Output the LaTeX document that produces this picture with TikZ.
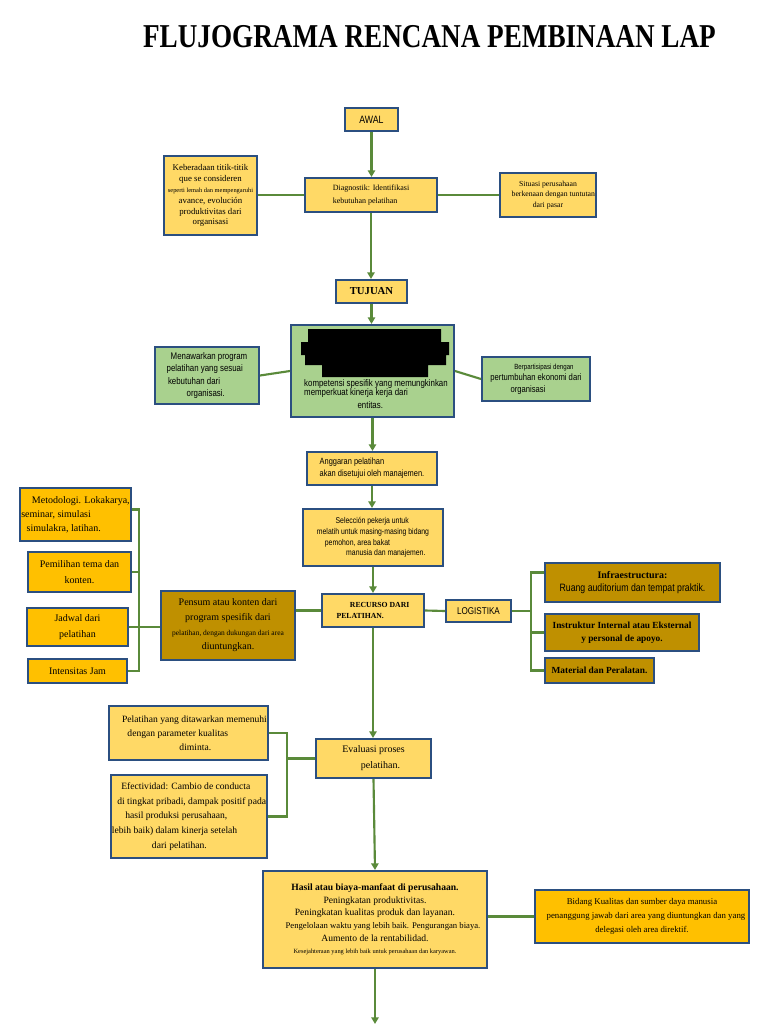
\documentclass[tikz,border=0pt]{standalone}
\usepackage{fontspec}
\setmainfont{Liberation Serif}
\newfontfamily\nsans[FakeStretch=0.82]{Liberation Sans}
\usetikzlibrary{arrows.meta,calc}
\definecolor{bcol}{HTML}{2B4F80}
\definecolor{lyel}{HTML}{FFD966}
\definecolor{gold}{HTML}{FFC000}
\definecolor{dgold}{HTML}{BF9000}
\definecolor{gfill}{HTML}{A9D18E}
\definecolor{lcol}{HTML}{5A8A3A}
\newcommand\myfs[2]{\fontsize{#1}{#2}\selectfont}
\begin{document}
\begin{tikzpicture}[x=0.75pt,y=-0.75pt,
  box/.style={draw=bcol,line width=1.5pt,inner sep=1pt,align=center},
  ly/.style={box,fill=lyel},
  gd/.style={box,fill=gold},
  dg/.style={box,fill=dgold},
  gr/.style={box,fill=gfill},
  conn/.style={draw=lcol,line width=1.6pt},
  arr/.style={conn,-{Triangle[width=5.5pt,length=5pt]},shorten >=0pt}]
\useasboundingbox (0,0) rectangle (768,1024);
\fill[white] (0,0) rectangle (768,1024);
% title
\node[font=\bfseries\myfs{25}{28},inner sep=0pt] (title) at (429.5,37) {\scalebox{0.815}[1]{FLUJOGRAMA RENCANA PEMBINAAN LAP}};
% top section
\node[ly,minimum width=39.75pt,minimum height=17.25pt,font=\nsans\myfs{8}{9}] (awal) at (371.5,119.5) {AWAL};
\node[ly,minimum width=99pt,minimum height=25.5pt,font=\myfs{6}{9.5},align=left] (diag) at (371,195) {Diagnostik: Identifikasi\\kebutuhan pelatihan};
\node[ly,minimum width=69.75pt,minimum height=59.25pt,font=\myfs{6.6}{8.2}] (keber) at (210.5,195.5) {Keberadaan titik-titik\\que se consideren\\{\myfs{4.8}{8.2}seperti lemah dan mempengaruhi}\\avance, evolución\\produktivitas dari\\organisasi};
\node[ly,minimum width=72pt,minimum height=33pt,font=\myfs{5.8}{8}] (situ) at (548,195) {Situasi perusahaan\\\hspace*{8pt}berkenaan dengan tuntutan\\dari pasar};
\node[ly,minimum width=53.25pt,minimum height=17.25pt,font=\bfseries\myfs{8}{9}] (tujuan) at (371.5,291.5) {TUJUAN};
% green row
\node[gr,minimum width=122.25pt,minimum height=69pt] (cgreen) at (372.5,371) {};
\fill[black] (308,329) -- (441,329) -- (441,342) -- (449,342) -- (449,355) -- (446,355) -- (446,365) -- (428,365) -- (428,377) -- (322,377) -- (322,365) -- (305,365) -- (305,355) -- (301,355) -- (301,342) -- (308,342) -- cycle;
\node[font=\nsans\myfs{7.2}{6.8},align=left,inner sep=0pt] (cgtext) at (376,394) {kompetensi spesifik yang memungkinkan\\memperkuat kinerja kerja dari\\[3.5pt]\hspace*{40pt}entitas.};
\node[gr,minimum width=78pt,minimum height=42.75pt,font=\nsans\myfs{7.2}{9.2},align=left] (lgreen) at (207,375.5) {\hspace*{3pt}Menawarkan program\\pelatihan yang sesuai\\\hspace*{1pt}kebutuhan dari\\\hspace*{15pt}organisasi.};
\node[gr,minimum width=81pt,minimum height=33pt,font=\nsans\myfs{7}{8.5}] (rgreen) at (536,379) {\hspace*{12pt}{\myfs{5.6}{8}Berpartisipasi dengan}\\pertumbuhan ekonomi dari\\\hspace*{-12pt}organisasi};
% middle column
\node[ly,minimum width=97.5pt,minimum height=24.75pt,font=\nsans\myfs{6.8}{9},align=left] (angg) at (372,468.5) {Anggaran pelatihan\\akan disetujui oleh manajemen.};
\node[ly,minimum width=105pt,minimum height=42.75pt,font=\nsans\myfs{6.3}{8},align=left] (selec) at (373,537.5) {\hspace*{14pt}Selección pekerja untuk\\melatih untuk masing-masing bidang\\\hspace*{6pt}pemohon, area bakat\\\hspace*{22pt}manusia dan manajemen.};
\node[ly,minimum width=76.5pt,minimum height=24.75pt,font=\bfseries\myfs{5.8}{8.5},align=left] (recur) at (373,610.5) {\hspace*{10pt}RECURSO DARI\\PELATIHAN.};
\node[dg,minimum width=100.5pt,minimum height=51.75pt,font=\myfs{7.5}{11}] (pensum) at (228,625.5) {Pensum atau konten dari\\program spesifik dari\\{\myfs{5.6}{11}pelatihan, dengan dukungan dari area}\\diuntungkan.};
\node[ly,minimum width=48.75pt,minimum height=16.5pt,font=\nsans\myfs{7.4}{9}] (logis) at (478.5,611) {LOGISTIKA};
% right column
\node[dg,minimum width=131.25pt,minimum height=29.25pt,font=\myfs{7.5}{9.5}] (infra) at (632.5,582.5) {\textbf{Infraestructura:}\\{\nsans\myfs{8}{9.5}Ruang auditorium dan tempat praktik.}};
\node[dg,minimum width=115.5pt,minimum height=27.75pt,font=\bfseries\myfs{7}{9.5}] (instr) at (622,632.5) {Instruktur Internal atau Eksternal\\y personal de apoyo.};
\node[dg,minimum width=81.75pt,minimum height=18.75pt,font=\bfseries\myfs{7}{9}] (mater) at (599.5,670.5) {Material dan Peralatan.};
% left column
\node[gd,minimum width=83.25pt,minimum height=39.75pt,font=\myfs{7.5}{10.5},align=left] (metod) at (75.5,514.5) {\hspace*{8pt}Metodologi. Lokakarya,\\seminar, simulasi\\\hspace*{4pt}simulakra, latihan.};
\node[gd,minimum width=77.25pt,minimum height=30pt,font=\myfs{7.5}{12}] (pemil) at (79.5,572) {Pemilihan tema dan\\konten.};
\node[gd,minimum width=75.75pt,minimum height=28.5pt,font=\myfs{7.5}{12}] (jadwal) at (77.5,627) {Jadwal dari\\pelatihan};
\node[gd,minimum width=74.25pt,minimum height=18pt,font=\myfs{7.5}{9}] (inten) at (77.5,671) {Intensitas Jam};
% evaluation
\node[ly,minimum width=86.25pt,minimum height=29.25pt,font=\myfs{7.5}{12},align=left] (evalu) at (373.5,758.5) {Evaluasi proses\\\hspace*{14pt}pelatihan.};
\node[ly,minimum width=117.75pt,minimum height=40.5pt,font=\myfs{7.2}{10.5},align=left] (pelat) at (188.5,733) {\hspace*{9pt}Pelatihan yang ditawarkan memenuhi\\\hspace*{13pt}dengan parameter kualitas\\\hspace*{52pt}diminta.};
\node[ly,minimum width=117pt,minimum height=62.25pt,font=\myfs{7.2}{11},align=left] (efect) at (189,816.5) {\hspace*{7pt}Efectividad: Cambio de conducta\\\hspace*{4pt}di tingkat pribadi, dampak positif pada\\\hspace*{10pt}hasil produksi perusahaan,\\lebih baik) dalam kinerja setelah\\\hspace*{30pt}dari pelatihan.};
% results
\node[ly,minimum width=168pt,minimum height=72.75pt,font=\myfs{7.2}{9.5}] (hasil) at (375,919.5) {\textbf{Hasil atau biaya-manfaat di perusahaan.}\\Peningkatan produktivitas.\\Peningkatan kualitas produk dan layanan.\\{\myfs{6.5}{9.5}\hspace*{12pt}Pengelolaan waktu yang lebih baik. Pengurangan biaya.}\\Aumento de la rentabilidad.\\{\myfs{4.8}{9.5}Kesejahteraan yang lebih baik untuk perusahaan dan karyawan.}};
\node[gd,minimum width=160.5pt,minimum height=39.75pt,font=\myfs{6.6}{10.5}] (bidang) at (642,916.5) {Bidang Kualitas dan sumber daya manusia\\\hspace*{6pt}penanggung jawab dari area yang diuntungkan dan yang\\delegasi oleh area direktif.};
\coordinate (endp) at (375,1024);
% connectors main
\draw[arr] (awal.south) -- (awal.south |- diag.north);
\draw[conn] (keber.east |- diag.west) -- (diag.west);
\draw[conn] (diag.east) -- (situ.west);
\draw[arr] (diag.south) -- (diag.south |- tujuan.north);
\draw[arr] (tujuan.south) -- (tujuan.south |- cgreen.north);
\draw[conn] (lgreen.east) -- (cgreen.west);
\draw[conn] (cgreen.east) -- (rgreen.west);
\draw[arr] (cgreen.south) -- (cgreen.south |- angg.north);
\draw[arr] (angg.south) -- (angg.south |- selec.north);
\draw[arr] (selec.south) -- (selec.south |- recur.north);
\draw[conn] (pensum.east |- recur.west) -- (recur.west);
\draw[conn] (recur.east) -- (logis.west);
\draw[arr] (recur.south) -- (recur.south |- evalu.north);
\draw[arr] (evalu.south) -- (hasil.north);
\draw[conn] (hasil.east |- bidang.west) -- (bidang.west);
\draw[arr] (hasil.south) -- (endp);
% right bracket
\coordinate (rb) at (531,611);
\coordinate (itop) at ($(infra.west)+(0,-10)$);
\draw[conn] (logis.east) -- (rb);
\draw[conn] (itop) -- (itop -| rb) -- (rb |- mater.west) -- (mater.west);
\draw[conn] (instr.west) -- (instr.west -| rb);
% left bracket
\coordinate (lb) at (139,514.5);
\coordinate (mtop) at ($(metod.east)+(0,-5)$);
\draw[conn] (mtop) -- (mtop -| lb) -- (lb |- inten.east) -- (inten.east);
\draw[conn] (pemil.east) -- (pemil.east -| lb);
\draw[conn] (jadwal.east) -- (jadwal.east -| pensum.west);
% evaluation bracket
\coordinate (eb) at (287,758.5);
\draw[conn] (pelat.east) -- (pelat.east -| eb) -- (eb |- efect.east) -- (efect.east);
\draw[conn] (eb) -- (evalu.west);
\end{tikzpicture}
\end{document}
